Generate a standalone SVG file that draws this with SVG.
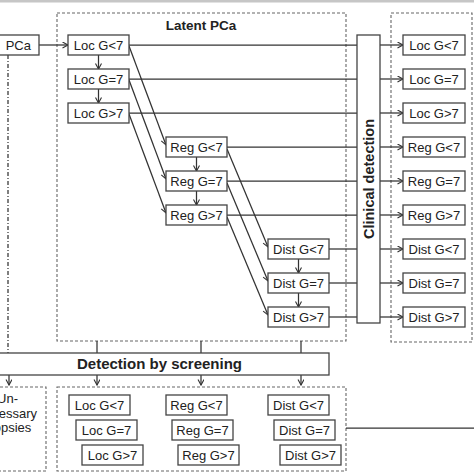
<svg xmlns="http://www.w3.org/2000/svg" width="474" height="474" viewBox="0 0 474 474">
<style>
.box{fill:#fff;stroke:#444;stroke-width:1.3}
.dash{fill:none;stroke:#666;stroke-width:1.1;stroke-dasharray:3,2}
.ln{fill:none;stroke:#333;stroke-width:1.25}
.t{font-family:"Liberation Sans",Arial,sans-serif;font-size:13px;fill:#222;text-anchor:middle}
.b{font-family:"Liberation Sans",Arial,sans-serif;font-weight:bold;fill:#222;text-anchor:middle}
</style>
<defs>
<marker id="ah" markerWidth="8" markerHeight="8" refX="6" refY="3" orient="auto" markerUnits="userSpaceOnUse"><path d="M0.5,0 L6,3 L0.5,6" fill="none" stroke="#333" stroke-width="1.1"/></marker>
</defs>
<rect x="0" y="0" width="474" height="2.5" fill="#c6c6c6"/>
<g id="frames">
<rect class="dash" x="57" y="13" width="289" height="328"/>
<rect class="dash" x="391" y="13" width="81" height="329"/>
<rect class="dash" x="57" y="387" width="289" height="84"/>
<rect class="dash" x="-5" y="387" width="51" height="84"/>
<text class="b" x="201" y="30" font-size="13.5">Latent PCa</text>
</g>
<g id="connectors">
<line class="ln" x1="39" y1="45" x2="68" y2="45" marker-end="url(#ah)"/>
<line class="ln" x1="8" y1="55" x2="8" y2="353" stroke="#555" stroke-dasharray="4,2,1,2"/>
<line class="ln" x1="98.5" y1="55" x2="98.5" y2="69" marker-end="url(#ah)"/>
<line class="ln" x1="98.5" y1="89" x2="98.5" y2="103" marker-end="url(#ah)"/>
<line class="ln" x1="196.5" y1="157" x2="196.5" y2="171" marker-end="url(#ah)"/>
<line class="ln" x1="196.5" y1="191" x2="196.5" y2="205" marker-end="url(#ah)"/>
<line class="ln" x1="298.5" y1="259" x2="298.5" y2="273" marker-end="url(#ah)"/>
<line class="ln" x1="298.5" y1="293" x2="298.5" y2="307" marker-end="url(#ah)"/>
<line class="ln" x1="129" y1="46" x2="166" y2="145" marker-end="url(#ah)"/>
<line class="ln" x1="129" y1="80" x2="166" y2="179" marker-end="url(#ah)"/>
<line class="ln" x1="129" y1="114" x2="166" y2="213" marker-end="url(#ah)"/>
<line class="ln" x1="227" y1="149" x2="268" y2="247" marker-end="url(#ah)"/>
<line class="ln" x1="227" y1="183" x2="268" y2="281" marker-end="url(#ah)"/>
<line class="ln" x1="227" y1="217" x2="268" y2="315" marker-end="url(#ah)"/>
<line class="ln" x1="129" y1="45" x2="357" y2="45"/>
<line class="ln" x1="129" y1="79" x2="357" y2="79"/>
<line class="ln" x1="129" y1="113" x2="357" y2="113"/>
<line class="ln" x1="227" y1="147" x2="357" y2="147"/>
<line class="ln" x1="227" y1="181" x2="357" y2="181"/>
<line class="ln" x1="227" y1="215" x2="357" y2="215"/>
<line class="ln" x1="329" y1="249" x2="357" y2="249"/>
<line class="ln" x1="329" y1="283" x2="357" y2="283"/>
<line class="ln" x1="329" y1="317" x2="357" y2="317"/>
<line class="ln" x1="380" y1="45" x2="403" y2="45" marker-end="url(#ah)"/>
<line class="ln" x1="380" y1="79" x2="403" y2="79" marker-end="url(#ah)"/>
<line class="ln" x1="380" y1="113" x2="403" y2="113" marker-end="url(#ah)"/>
<line class="ln" x1="380" y1="147" x2="403" y2="147" marker-end="url(#ah)"/>
<line class="ln" x1="380" y1="181" x2="403" y2="181" marker-end="url(#ah)"/>
<line class="ln" x1="380" y1="215" x2="403" y2="215" marker-end="url(#ah)"/>
<line class="ln" x1="380" y1="249" x2="403" y2="249" marker-end="url(#ah)"/>
<line class="ln" x1="380" y1="283" x2="403" y2="283" marker-end="url(#ah)"/>
<line class="ln" x1="380" y1="317" x2="403" y2="317" marker-end="url(#ah)"/>
<line class="ln" x1="97" y1="341" x2="97" y2="353"/>
<line class="ln" x1="201" y1="341" x2="201" y2="353"/>
<line class="ln" x1="301" y1="341" x2="301" y2="353"/>
<line class="ln" x1="9" y1="375" x2="9" y2="385" marker-end="url(#ah)"/>
<line class="ln" x1="97" y1="375" x2="97" y2="385" marker-end="url(#ah)"/>
<line class="ln" x1="201" y1="375" x2="201" y2="385" marker-end="url(#ah)"/>
<line class="ln" x1="301" y1="375" x2="301" y2="385" marker-end="url(#ah)"/>
<line class="ln" x1="346" y1="428" x2="474" y2="428"/>
</g>
<g id="pca"><rect class="box" x="-5" y="35" width="44" height="20"/><text class="t" x="31" y="49.6" style="text-anchor:end">PCa</text></g>
<g id="loc1"><rect class="box" x="68" y="35" width="61" height="20"/><text class="t" x="98.5" y="49.6">Loc G&lt;7</text></g>
<g id="loc2"><rect class="box" x="68" y="69" width="61" height="20"/><text class="t" x="98.5" y="83.6">Loc G=7</text></g>
<g id="loc3"><rect class="box" x="68" y="103" width="61" height="20"/><text class="t" x="98.5" y="117.6">Loc G&gt;7</text></g>
<g id="reg1"><rect class="box" x="166" y="137" width="61" height="20"/><text class="t" x="196.5" y="151.6">Reg G&lt;7</text></g>
<g id="reg2"><rect class="box" x="166" y="171" width="61" height="20"/><text class="t" x="196.5" y="185.6">Reg G=7</text></g>
<g id="reg3"><rect class="box" x="166" y="205" width="61" height="20"/><text class="t" x="196.5" y="219.6">Reg G&gt;7</text></g>
<g id="dist1"><rect class="box" x="268" y="239" width="61" height="20"/><text class="t" x="298.5" y="253.6">Dist G&lt;7</text></g>
<g id="dist2"><rect class="box" x="268" y="273" width="61" height="20"/><text class="t" x="298.5" y="287.6">Dist G=7</text></g>
<g id="dist3"><rect class="box" x="268" y="307" width="61" height="20"/><text class="t" x="298.5" y="321.6">Dist G&gt;7</text></g>
<g id="clinical"><rect class="box" x="357" y="35" width="23" height="288" stroke="#555"/><text class="b" font-size="14.5" transform="translate(373.5,179) rotate(-90)">Clinical detection</text></g>
<g id="rloc1"><rect class="box" x="403" y="35" width="62" height="20"/><text class="t" x="434" y="49.6">Loc G&lt;7</text></g>
<g id="rloc2"><rect class="box" x="403" y="69" width="62" height="20"/><text class="t" x="434" y="83.6">Loc G=7</text></g>
<g id="rloc3"><rect class="box" x="403" y="103" width="62" height="20"/><text class="t" x="434" y="117.6">Loc G&gt;7</text></g>
<g id="rreg1"><rect class="box" x="403" y="137" width="62" height="20"/><text class="t" x="434" y="151.6">Reg G&lt;7</text></g>
<g id="rreg2"><rect class="box" x="403" y="171" width="62" height="20"/><text class="t" x="434" y="185.6">Reg G=7</text></g>
<g id="rreg3"><rect class="box" x="403" y="205" width="62" height="20"/><text class="t" x="434" y="219.6">Reg G&gt;7</text></g>
<g id="rdist1"><rect class="box" x="403" y="239" width="62" height="20"/><text class="t" x="434" y="253.6">Dist G&lt;7</text></g>
<g id="rdist2"><rect class="box" x="403" y="273" width="62" height="20"/><text class="t" x="434" y="287.6">Dist G=7</text></g>
<g id="rdist3"><rect class="box" x="403" y="307" width="62" height="20"/><text class="t" x="434" y="321.6">Dist G&gt;7</text></g>
<g id="screening"><rect class="box" x="-5" y="353" width="334" height="22" stroke="#555"/><text class="b" font-size="15" x="159.5" y="369">Detection by screening</text></g>
<g id="biopsies"><text class="t" x="7.5" y="403">Un-</text><text class="t" x="7.5" y="417.5">necessary</text><text class="t" x="7.5" y="432">biopsies</text></g>
<g id="sloc1"><rect class="box" x="69" y="395" width="61" height="20"/><text class="t" x="99.5" y="409.6">Loc G&lt;7</text></g>
<g id="sloc2"><rect class="box" x="76" y="420" width="61" height="20"/><text class="t" x="106.5" y="434.6">Loc G=7</text></g>
<g id="sloc3"><rect class="box" x="82" y="445" width="61" height="20"/><text class="t" x="112.5" y="459.6">Loc G&gt;7</text></g>
<g id="sreg1"><rect class="box" x="166" y="395" width="61" height="20"/><text class="t" x="196.5" y="409.6">Reg G&lt;7</text></g>
<g id="sreg2"><rect class="box" x="172" y="420" width="61" height="20"/><text class="t" x="202.5" y="434.6">Reg G=7</text></g>
<g id="sreg3"><rect class="box" x="178" y="445" width="61" height="20"/><text class="t" x="208.5" y="459.6">Reg G&gt;7</text></g>
<g id="sdist1"><rect class="box" x="268" y="395" width="61" height="20"/><text class="t" x="298.5" y="409.6">Dist G&lt;7</text></g>
<g id="sdist2"><rect class="box" x="274" y="420" width="61" height="20"/><text class="t" x="304.5" y="434.6">Dist G=7</text></g>
<g id="sdist3"><rect class="box" x="280" y="445" width="61" height="20"/><text class="t" x="310.5" y="459.6">Dist G&gt;7</text></g>
</svg>
